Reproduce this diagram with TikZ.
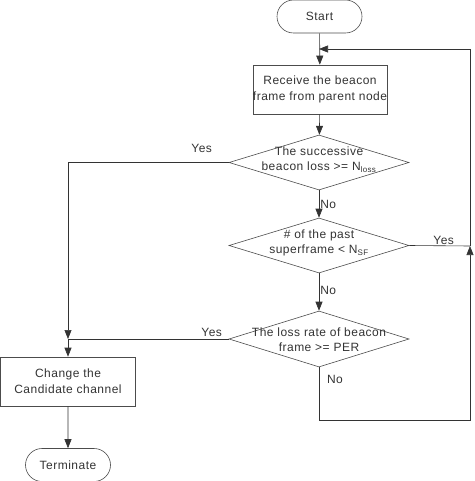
\documentclass[tikz,border=0pt]{standalone}
\usepackage{fontspec}
\setmainfont{Liberation Sans}[LetterSpace=4]
\usetikzlibrary{arrows.meta,positioning,calc,shapes.geometric,shapes.misc}

\begin{document}
\begin{tikzpicture}[
  x=1pt, y=-1pt,
  font=\fontsize{12}{16}\selectfont,
  every node/.style={text=black!80},
  >={Triangle[length=9pt,width=7pt]},
  line/.style={draw=black!80, line width=0.6pt},
  term/.style={rounded rectangle, draw=black!70, line width=0.6pt, minimum width=85pt, minimum height=33pt, inner sep=0pt},
  block/.style={rectangle, draw=black!70, line width=0.6pt, minimum width=134pt, minimum height=49pt, align=center, inner sep=0pt},
  decision/.style={diamond, draw=black!70, line width=0.6pt, minimum width=180pt, minimum height=55pt, inner sep=0pt},
  dtext/.style={align=center, inner sep=0pt, font=\fontsize{12}{15}\selectfont},
  tag/.style={inner sep=1pt},
]
\useasboundingbox (0,0) rectangle (474,481);

% Blocks
\node[term]     (start)   at (319.5,16.5) {Start};
\node[block]    (recv)    at (320,89.5)   {Receive the beacon\\frame from parent node};
\node[decision] (lossdec) at (319,162.5)  {};
\node[dtext]    (losstxt) at (319,160)    {The successive\\beacon loss >= N\textsubscript{loss}};
\node[decision] (pastdec) at (319,245.5)  {};
\node[dtext]    (pasttxt) at (319,243)    {\# of the past\\superframe < N\textsubscript{SF}};
\node[decision, minimum height=56pt] (ratedec) at (319,339) {};
\node[dtext]    (ratetxt) at (319,340)    {The loss rate of beacon\\frame >= PER};
\node[block, minimum width=135pt] (change) at (68,381.5) {Change the\\Candidate channel};
\node[term]     (stop)    at (68,465)     {Terminate};

% Corner points of the lines
\coordinate (merge)   at (68,339);
\coordinate (loopsw)  at (319,420);
\coordinate (loopse)  at (470,420);
\coordinate (yesjoin) at (470,246);
\coordinate (loopne)  at (470,49);
\coordinate (entry)   at (319,49);

% Main flow
\draw[line,->] (start) -- (recv);
\draw[line,->] (recv) -- (lossdec);
\draw[line,->] (lossdec) -- node[tag, right] (noloss) {No} (pastdec);
\draw[line,->] (pastdec) -- node[tag, right, yshift=2pt] (nopast) {No} (ratedec);

% Yes branches to the left
\draw[line,->] (lossdec.west) -| (merge);
\node[tag] (yesloss) at ($(lossdec.west)+(-27,-14)$) {Yes};
\draw[line] (ratedec.west) -- (merge);
\node[tag] (yesrate) at ($(ratedec.west)+(-17,-7)$) {Yes};
\draw[line,->] (merge) -- (change);
\draw[line,->] (change) -- (stop);

% Loop back to the top
\draw[line] (pastdec.east) -- node[tag, above, xshift=4pt] (yespast) {Yes} (yesjoin);
\draw[line,->] (ratedec.south) -- (loopsw) -- (loopse) -- (yesjoin);
\node[tag] (norate) at ($(ratedec.south)+(16,12)$) {No};
\draw[line,->] (yesjoin) -- (loopne) -- (entry);

\end{tikzpicture}
\end{document}
